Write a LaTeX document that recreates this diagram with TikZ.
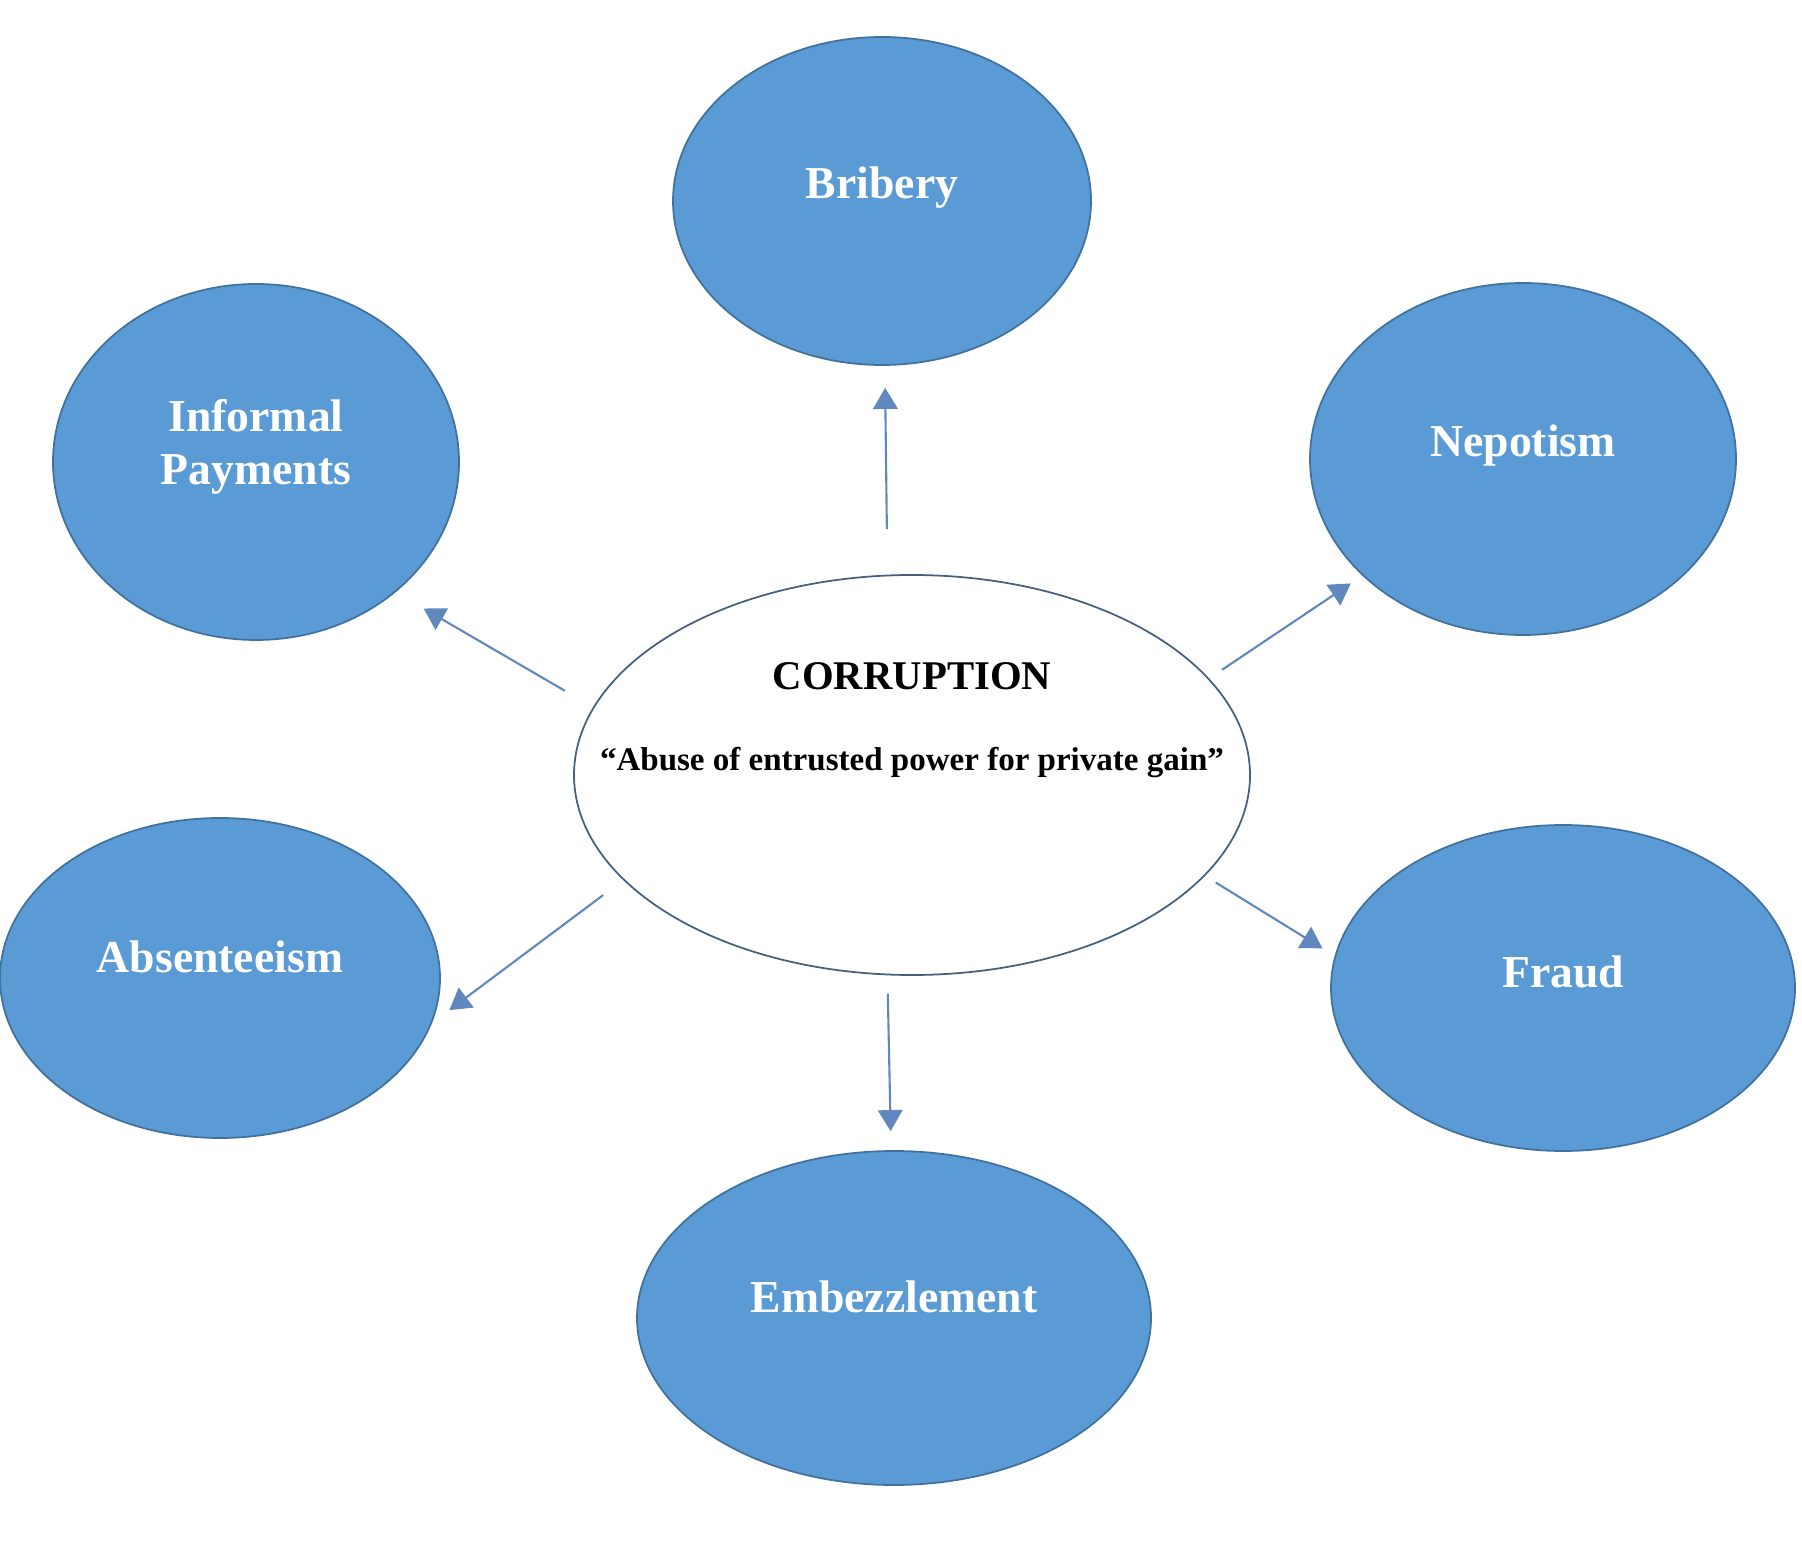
\documentclass[tikz,border=0pt]{standalone}
\usepackage{fontspec}
\setmainfont{Liberation Serif}
\usepackage{tikz}
\usetikzlibrary{shapes.geometric, arrows.meta}
\definecolor{topicblue}{RGB}{91,155,213}
\definecolor{topicedge}{RGB}{65,113,156}
\definecolor{coreedge}{RGB}{72,96,128}
\definecolor{arrowblue}{RGB}{96,136,190}
\tikzstyle{topic} = [ellipse, draw=topicedge, line width=0.5pt, fill=topicblue, inner sep=0pt]
\tikzstyle{topictext} = [text=white, font=\fontsize{13}{15}\selectfont\bfseries, align=center]
\tikzstyle{core} = [ellipse, draw=coreedge, line width=0.5pt, fill=white, minimum width=6.76cm, minimum height=4cm]
\tikzstyle{arrow} = [line width=0.6pt, draw=arrowblue, ->, >={Triangle[length=6pt,width=7pt]}]

\begin{document}
\begin{tikzpicture}
    \useasboundingbox (0,0) rectangle (18.02,15.44);

    % Nodes
    \node (corruption) [core] at (9.12,7.69) {};
    \node (bribery) [topic, minimum width=4.18cm, minimum height=3.28cm] at (8.82,13.43) {};
    \node (informal) [topic, minimum width=4.06cm, minimum height=3.56cm] at (2.56,10.82) {};
    \node (nepotism) [topic, minimum width=4.26cm, minimum height=3.52cm] at (15.23,10.85) {};
    \node (absent) [topic, minimum width=4.40cm, minimum height=3.20cm] at (2.20,5.66) {};
    \node (fraud) [topic, minimum width=4.64cm, minimum height=3.26cm] at (15.63,5.56) {};
    \node (embezzle) [topic, minimum width=5.14cm, minimum height=3.34cm] at (8.94,2.26) {};

    % Texts
    \node (corruption-title) [font=\fontsize{11.6}{13}\selectfont\bfseries] at ([yshift=0.99cm]corruption.center) {CORRUPTION};
    \node (corruption-def) [font=\fontsize{9.4}{11}\selectfont\bfseries] at ([yshift=0.12cm]corruption.center) {``Abuse of entrusted power for private gain''};
    \node (bribery-text) [topictext] at ([yshift=0.13cm]bribery.center) {Bribery};
    \node (informal-text) [topictext] at ([yshift=0.15cm]informal.center) {Informal\\Payments};
    \node (nepotism-text) [topictext] at ([yshift=0.13cm]nepotism.center) {Nepotism};
    \node (absent-text) [topictext] at ([yshift=0.21cm]absent.center) {Absenteeism};
    \node (fraud-text) [topictext] at ([yshift=0.16cm]fraud.center) {Fraud};
    \node (embezzle-text) [topictext] at ([yshift=0.21cm]embezzle.center) {Embezzlement};

    % Arrows
    \draw [arrow, shorten <=0.455cm, shorten >=0.22cm] (corruption.97.1) -- (bribery.271.7);
    \draw [arrow, shorten <=0.327cm, shorten >=0.323cm] (corruption.168.2) -- (informal.317.1);
    \draw [arrow, shorten <=0.155cm, shorten >=0.138cm] (corruption.18.84) -- (nepotism.216.65);
    \draw [arrow, shorten <=0.25cm, shorten >=0.216cm] (corruption.200.98) -- (absent.348.7);
    \draw [arrow, shorten <=0.126cm, shorten >=0.143cm] (corruption.341.06) -- (fraud.172.4);
    \draw [arrow, shorten <=0.184cm, shorten >=0.19cm] (corruption.263.7) -- (embezzle.91.4);

\end{tikzpicture}
\end{document}
